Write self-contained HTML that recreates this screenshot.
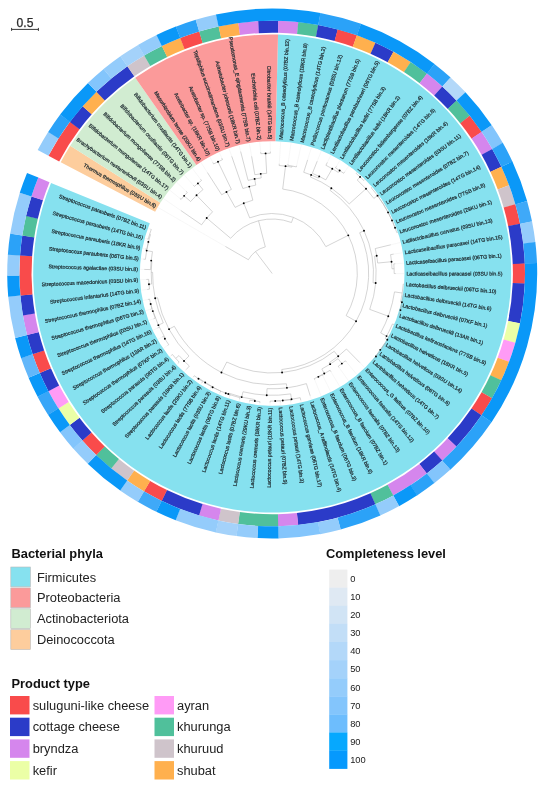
<!DOCTYPE html>
<html><head><meta charset="utf-8"><title>Phylogenetic tree of MAGs</title>
<style>
html,body{margin:0;padding:0;background:#fff}
body{width:550px;height:790px;overflow:hidden}
svg{display:block;font-family:"Liberation Sans",Arial,Helvetica,sans-serif}
</style></head><body>
<svg width="550" height="790" viewBox="0 0 550 790">
<rect width="550" height="790" fill="#fff"/>
<path d="M278.04 34.57A239.0 239.0 0 1 1 51.04 182.89L149.78 223.34A132.3 132.3 0 1 0 275.43 141.24Z" fill="#86e1ef"/>
<path d="M60.73 162.14A239.0 239.0 0 0 1 70.22 145.74L160.39 202.78A132.3 132.3 0 0 0 155.14 211.86Z" fill="#fdcd9d"/>
<path d="M70.22 145.74A239.0 239.0 0 0 1 135.25 77.63L196.39 165.07A132.3 132.3 0 0 0 160.39 202.78Z" fill="#d1ecd1"/>
<path d="M135.25 77.63A239.0 239.0 0 0 1 278.04 34.57L275.43 141.24A132.3 132.3 0 0 0 196.39 165.07Z" fill="#fb9a9a"/>
<path d="M48.48 155.79A252.8 252.8 0 0 1 69.99 121.78L79.67 129.05A240.7 240.7 0 0 0 59.18 161.43Z" fill="#f94b4b"/>
<path d="M69.88 121.93A252.8 252.8 0 0 1 82.64 106.24L91.72 114.24A240.7 240.7 0 0 0 79.56 129.18Z" fill="#2b3bc8"/>
<path d="M82.53 106.37A252.8 252.8 0 0 1 96.50 91.74L104.91 100.44A240.7 240.7 0 0 0 91.61 114.37Z" fill="#ffb04e"/>
<path d="M96.37 91.87A252.8 252.8 0 0 1 127.42 66.27L134.35 76.19A240.7 240.7 0 0 0 104.78 100.56Z" fill="#2b3bc8"/>
<path d="M127.27 66.37A252.8 252.8 0 0 1 144.29 55.45L150.42 65.88A240.7 240.7 0 0 0 134.21 76.28Z" fill="#cfc4cb"/>
<path d="M144.14 55.53A252.8 252.8 0 0 1 161.98 46.00L167.25 56.88A240.7 240.7 0 0 0 150.27 65.97Z" fill="#50c09b"/>
<path d="M161.82 46.07A252.8 252.8 0 0 1 180.35 37.98L184.75 49.25A240.7 240.7 0 0 0 167.10 56.96Z" fill="#ffb04e"/>
<path d="M180.19 38.04A252.8 252.8 0 0 1 199.30 31.44L202.79 43.02A240.7 240.7 0 0 0 184.59 49.31Z" fill="#f94b4b"/>
<path d="M199.13 31.49A252.8 252.8 0 0 1 218.71 26.42L221.27 38.25A240.7 240.7 0 0 0 202.63 43.07Z" fill="#50c09b"/>
<path d="M218.54 26.46A252.8 252.8 0 0 1 238.46 22.96L240.07 34.95A240.7 240.7 0 0 0 221.11 38.28Z" fill="#ffb04e"/>
<path d="M238.28 22.99A252.8 252.8 0 0 1 258.42 21.08L259.08 33.16A240.7 240.7 0 0 0 239.91 34.98Z" fill="#d586ed"/>
<path d="M258.24 21.09A252.8 252.8 0 0 1 278.46 20.78L278.16 32.87A240.7 240.7 0 0 0 258.91 33.17Z" fill="#2b3bc8"/>
<path d="M278.29 20.77A252.8 252.8 0 0 1 298.47 22.07L297.21 34.10A240.7 240.7 0 0 0 278.00 32.87Z" fill="#d586ed"/>
<path d="M298.30 22.05A252.8 252.8 0 0 1 318.31 24.94L316.11 36.84A240.7 240.7 0 0 0 297.05 34.09Z" fill="#50c09b"/>
<path d="M318.14 24.91A252.8 252.8 0 0 1 337.86 29.38L334.72 41.06A240.7 240.7 0 0 0 315.94 36.81Z" fill="#2b3bc8"/>
<path d="M337.69 29.33A252.8 252.8 0 0 1 357.00 35.35L352.94 46.75A240.7 240.7 0 0 0 334.56 41.02Z" fill="#f94b4b"/>
<path d="M356.84 35.29A252.8 252.8 0 0 1 375.61 42.82L370.66 53.86A240.7 240.7 0 0 0 352.78 46.69Z" fill="#ffb04e"/>
<path d="M375.45 42.74A252.8 252.8 0 0 1 393.56 51.74L387.75 62.35A240.7 240.7 0 0 0 370.50 53.79Z" fill="#2b3bc8"/>
<path d="M393.41 51.65A252.8 252.8 0 0 1 410.75 62.05L404.12 72.17A240.7 240.7 0 0 0 387.61 62.27Z" fill="#ffb04e"/>
<path d="M410.61 61.95A252.8 252.8 0 0 1 427.07 73.69L419.66 83.26A240.7 240.7 0 0 0 403.98 72.08Z" fill="#50c09b"/>
<path d="M426.93 73.59A252.8 252.8 0 0 1 442.42 86.60L434.27 95.54A240.7 240.7 0 0 0 419.53 83.16Z" fill="#d586ed"/>
<path d="M442.29 86.48A252.8 252.8 0 0 1 456.69 100.67L447.86 108.94A240.7 240.7 0 0 0 434.15 95.43Z" fill="#2b3bc8"/>
<path d="M456.57 100.54A252.8 252.8 0 0 1 469.81 115.83L460.35 123.38A240.7 240.7 0 0 0 447.75 108.82Z" fill="#50c09b"/>
<path d="M469.70 115.70A252.8 252.8 0 0 1 481.68 131.99L471.66 138.76A240.7 240.7 0 0 0 460.25 123.25Z" fill="#f94b4b"/>
<path d="M481.58 131.84A252.8 252.8 0 0 1 492.24 149.03L481.70 154.99A240.7 240.7 0 0 0 471.56 138.62Z" fill="#d586ed"/>
<path d="M492.15 148.88A252.8 252.8 0 0 1 501.41 166.86L490.44 171.97A240.7 240.7 0 0 0 481.62 154.85Z" fill="#2b3bc8"/>
<path d="M501.33 166.70A252.8 252.8 0 0 1 509.14 185.36L497.80 189.58A240.7 240.7 0 0 0 490.37 171.81Z" fill="#ffb04e"/>
<path d="M509.08 185.19A252.8 252.8 0 0 1 515.38 204.41L503.74 207.72A240.7 240.7 0 0 0 497.74 189.42Z" fill="#cfc4cb"/>
<path d="M515.33 204.24A252.8 252.8 0 0 1 520.09 223.90L508.22 226.27A240.7 240.7 0 0 0 503.69 207.56Z" fill="#f94b4b"/>
<path d="M520.05 223.73A252.8 252.8 0 0 1 524.81 263.69L512.72 264.16A240.7 240.7 0 0 0 508.19 226.11Z" fill="#2b3bc8"/>
<path d="M524.80 263.51A252.8 252.8 0 0 1 524.79 283.73L512.70 283.24A240.7 240.7 0 0 0 512.71 263.99Z" fill="#f94b4b"/>
<path d="M524.80 283.56A252.8 252.8 0 0 1 520.00 323.51L508.14 321.12A240.7 240.7 0 0 0 512.71 283.08Z" fill="#2b3bc8"/>
<path d="M520.04 323.34A252.8 252.8 0 0 1 515.26 342.99L503.63 339.66A240.7 240.7 0 0 0 508.18 320.95Z" fill="#ebffa6"/>
<path d="M515.31 342.82A252.8 252.8 0 0 1 508.99 362.03L497.66 357.79A240.7 240.7 0 0 0 503.67 339.50Z" fill="#ff9bf6"/>
<path d="M509.05 361.87A252.8 252.8 0 0 1 501.23 380.52L490.27 375.40A240.7 240.7 0 0 0 497.72 357.64Z" fill="#ffb04e"/>
<path d="M501.31 380.36A252.8 252.8 0 0 1 492.03 398.33L481.51 392.36A240.7 240.7 0 0 0 490.34 375.24Z" fill="#50c09b"/>
<path d="M492.12 398.18A252.8 252.8 0 0 1 481.45 415.36L471.43 408.57A240.7 240.7 0 0 0 481.59 392.21Z" fill="#f94b4b"/>
<path d="M481.55 415.21A252.8 252.8 0 0 1 456.41 446.63L447.59 438.35A240.7 240.7 0 0 0 471.53 408.43Z" fill="#2b3bc8"/>
<path d="M456.53 446.51A252.8 252.8 0 0 1 442.11 460.69L433.98 451.73A240.7 240.7 0 0 0 447.71 438.22Z" fill="#d586ed"/>
<path d="M442.24 460.57A252.8 252.8 0 0 1 426.74 473.56L419.34 463.99A240.7 240.7 0 0 0 434.10 451.61Z" fill="#2b3bc8"/>
<path d="M426.88 473.45A252.8 252.8 0 0 1 393.19 495.46L387.40 484.84A240.7 240.7 0 0 0 419.48 463.88Z" fill="#d586ed"/>
<path d="M393.35 495.38A252.8 252.8 0 0 1 375.22 504.35L370.29 493.30A240.7 240.7 0 0 0 387.55 484.76Z" fill="#50c09b"/>
<path d="M375.39 504.28A252.8 252.8 0 0 1 298.05 524.97L296.82 512.94A240.7 240.7 0 0 0 370.45 493.24Z" fill="#2b3bc8"/>
<path d="M298.23 524.96A252.8 252.8 0 0 1 278.05 526.23L277.77 514.14A240.7 240.7 0 0 0 296.98 512.92Z" fill="#d586ed"/>
<path d="M278.22 526.23A252.8 252.8 0 0 1 238.04 523.98L239.68 511.99A240.7 240.7 0 0 0 277.93 514.13Z" fill="#50c09b"/>
<path d="M238.22 524.01A252.8 252.8 0 0 1 218.30 520.49L220.88 508.67A240.7 240.7 0 0 0 239.85 512.02Z" fill="#cfc4cb"/>
<path d="M218.48 520.53A252.8 252.8 0 0 1 198.90 515.44L202.41 503.86A240.7 240.7 0 0 0 221.05 508.70Z" fill="#d586ed"/>
<path d="M199.07 515.49A252.8 252.8 0 0 1 161.60 500.82L166.89 489.94A240.7 240.7 0 0 0 202.57 503.91Z" fill="#2b3bc8"/>
<path d="M161.76 500.90A252.8 252.8 0 0 1 143.93 491.34L150.07 480.92A240.7 240.7 0 0 0 167.04 490.01Z" fill="#f94b4b"/>
<path d="M144.08 491.43A252.8 252.8 0 0 1 127.07 480.49L134.02 470.59A240.7 240.7 0 0 0 150.22 481.00Z" fill="#ffb04e"/>
<path d="M127.22 480.59A252.8 252.8 0 0 1 111.13 468.34L118.84 459.02A240.7 240.7 0 0 0 134.16 470.68Z" fill="#cfc4cb"/>
<path d="M111.26 468.45A252.8 252.8 0 0 1 96.19 454.97L104.62 446.28A240.7 240.7 0 0 0 118.97 459.12Z" fill="#50c09b"/>
<path d="M96.32 455.09A252.8 252.8 0 0 1 82.37 440.45L91.45 432.46A240.7 240.7 0 0 0 104.74 446.40Z" fill="#f94b4b"/>
<path d="M82.48 440.58A252.8 252.8 0 0 1 69.74 424.88L79.43 417.63A240.7 240.7 0 0 0 91.56 432.58Z" fill="#2b3bc8"/>
<path d="M69.84 425.02A252.8 252.8 0 0 1 58.38 408.36L68.61 401.91A240.7 240.7 0 0 0 79.53 417.77Z" fill="#ebffa6"/>
<path d="M58.47 408.51A252.8 252.8 0 0 1 48.36 390.99L59.08 385.37A240.7 240.7 0 0 0 68.70 402.05Z" fill="#ff9bf6"/>
<path d="M48.44 391.15A252.8 252.8 0 0 1 39.76 372.89L50.88 368.13A240.7 240.7 0 0 0 59.15 385.52Z" fill="#2b3bc8"/>
<path d="M39.83 373.05A252.8 252.8 0 0 1 32.61 354.15L44.08 350.29A240.7 240.7 0 0 0 50.95 368.28Z" fill="#f94b4b"/>
<path d="M32.67 354.32A252.8 252.8 0 0 1 26.97 334.91L38.71 331.98A240.7 240.7 0 0 0 44.13 350.45Z" fill="#2b3bc8"/>
<path d="M27.02 335.09A252.8 252.8 0 0 1 22.88 315.29L34.81 313.29A240.7 240.7 0 0 0 38.75 332.14Z" fill="#d586ed"/>
<path d="M22.91 315.46A252.8 252.8 0 0 1 20.35 295.40L32.40 294.35A240.7 240.7 0 0 0 34.84 313.45Z" fill="#2b3bc8"/>
<path d="M20.37 295.58A252.8 252.8 0 0 1 20.05 255.34L32.12 256.21A240.7 240.7 0 0 0 32.42 294.52Z" fill="#f94b4b"/>
<path d="M20.04 255.51A252.8 252.8 0 0 1 22.29 235.41L34.25 237.24A240.7 240.7 0 0 0 32.11 256.37Z" fill="#2b3bc8"/>
<path d="M22.26 235.59A252.8 252.8 0 0 1 26.09 215.73L37.87 218.50A240.7 240.7 0 0 0 34.22 237.40Z" fill="#50c09b"/>
<path d="M26.05 215.90A252.8 252.8 0 0 1 31.44 196.41L42.96 200.10A240.7 240.7 0 0 0 37.83 218.66Z" fill="#2b3bc8"/>
<path d="M31.39 196.58A252.8 252.8 0 0 1 38.31 177.57L49.50 182.16A240.7 240.7 0 0 0 42.91 200.26Z" fill="#d586ed"/>
<path d="M37.68 150.11A265.0 265.0 0 0 1 48.29 131.76L58.60 138.29A252.8 252.8 0 0 0 48.48 155.79Z" fill="#94ccfb"/>
<path d="M48.19 131.92A265.0 265.0 0 0 1 60.23 114.46L69.99 121.78A252.8 252.8 0 0 0 58.51 138.43Z" fill="#2ba2f8"/>
<path d="M60.12 114.61A265.0 265.0 0 0 1 88.02 82.97L96.50 91.74A252.8 252.8 0 0 0 69.88 121.93Z" fill="#0a98f8"/>
<path d="M87.88 83.10A265.0 265.0 0 0 1 103.69 68.98L111.45 78.39A252.8 252.8 0 0 0 96.37 91.87Z" fill="#83c5fc"/>
<path d="M103.55 69.09A265.0 265.0 0 0 1 120.43 56.27L127.42 66.27A252.8 252.8 0 0 0 111.31 78.50Z" fill="#94ccfb"/>
<path d="M120.28 56.37A265.0 265.0 0 0 1 138.12 44.92L144.29 55.45A252.8 252.8 0 0 0 127.27 66.37Z" fill="#a4d2fa"/>
<path d="M137.96 45.02A265.0 265.0 0 0 1 156.66 35.02L161.98 46.00A252.8 252.8 0 0 0 144.14 55.53Z" fill="#94ccfb"/>
<path d="M156.49 35.10A265.0 265.0 0 0 1 175.92 26.61L180.35 37.98A252.8 252.8 0 0 0 161.82 46.07Z" fill="#0a98f8"/>
<path d="M175.74 26.68A265.0 265.0 0 0 1 195.78 19.76L199.30 31.44A252.8 252.8 0 0 0 180.19 38.04Z" fill="#2ba2f8"/>
<path d="M195.61 19.81A265.0 265.0 0 0 1 216.13 14.50L218.71 26.42A252.8 252.8 0 0 0 199.13 31.49Z" fill="#94ccfb"/>
<path d="M215.95 14.54A265.0 265.0 0 0 1 320.54 12.95L318.31 24.94A252.8 252.8 0 0 0 218.54 26.46Z" fill="#0a98f8"/>
<path d="M320.36 12.91A265.0 265.0 0 0 1 361.09 23.85L357.00 35.35A252.8 252.8 0 0 0 318.14 24.91Z" fill="#2ba2f8"/>
<path d="M360.92 23.79A265.0 265.0 0 0 1 434.55 64.05L427.07 73.69A252.8 252.8 0 0 0 356.84 35.29Z" fill="#0a98f8"/>
<path d="M434.40 63.94A265.0 265.0 0 0 1 450.63 77.58L442.42 86.60A252.8 252.8 0 0 0 426.93 73.59Z" fill="#2ba2f8"/>
<path d="M450.50 77.45A265.0 265.0 0 0 1 465.60 92.33L456.69 100.67A252.8 252.8 0 0 0 442.29 86.48Z" fill="#b3d8f9"/>
<path d="M465.47 92.20A265.0 265.0 0 0 1 491.79 125.16L481.68 131.99A252.8 252.8 0 0 0 456.57 100.54Z" fill="#0a98f8"/>
<path d="M491.69 125.01A265.0 265.0 0 0 1 502.86 143.03L492.24 149.03A252.8 252.8 0 0 0 481.58 131.84Z" fill="#83c5fc"/>
<path d="M502.76 142.87A265.0 265.0 0 0 1 512.47 161.72L501.41 166.86A252.8 252.8 0 0 0 492.15 148.88Z" fill="#2ba2f8"/>
<path d="M512.39 161.55A265.0 265.0 0 0 1 527.11 201.08L515.38 204.41A252.8 252.8 0 0 0 501.33 166.70Z" fill="#0a98f8"/>
<path d="M527.06 200.90A265.0 265.0 0 0 1 532.05 221.51L520.09 223.90A252.8 252.8 0 0 0 515.33 204.24Z" fill="#3fa9f8"/>
<path d="M532.01 221.32A265.0 265.0 0 0 1 535.35 242.26L523.24 243.70A252.8 252.8 0 0 0 520.05 223.73Z" fill="#94ccfb"/>
<path d="M535.33 242.08A265.0 265.0 0 0 1 537.00 263.21L524.81 263.69A252.8 252.8 0 0 0 523.22 243.52Z" fill="#2ba2f8"/>
<path d="M536.99 263.03A265.0 265.0 0 0 1 491.55 422.20L481.45 415.36A252.8 252.8 0 0 0 524.80 263.51Z" fill="#0a98f8"/>
<path d="M491.65 422.05A265.0 265.0 0 0 1 450.31 469.72L442.11 460.69A252.8 252.8 0 0 0 481.55 415.21Z" fill="#2ba2f8"/>
<path d="M450.45 469.60A265.0 265.0 0 0 1 434.20 483.22L426.74 473.56A252.8 252.8 0 0 0 442.24 460.57Z" fill="#83c5fc"/>
<path d="M434.35 483.10A265.0 265.0 0 0 1 417.07 495.39L410.40 485.18A252.8 252.8 0 0 0 426.88 473.45Z" fill="#2ba2f8"/>
<path d="M417.23 495.29A265.0 265.0 0 0 1 399.03 506.18L393.19 495.46A252.8 252.8 0 0 0 410.55 485.08Z" fill="#0a98f8"/>
<path d="M399.20 506.09A265.0 265.0 0 0 1 380.20 515.50L375.22 504.35A252.8 252.8 0 0 0 393.35 495.38Z" fill="#94ccfb"/>
<path d="M380.37 515.42A265.0 265.0 0 0 1 340.61 529.52L337.46 517.73A252.8 252.8 0 0 0 375.39 504.28Z" fill="#2ba2f8"/>
<path d="M340.79 529.47A265.0 265.0 0 0 1 320.11 534.13L317.90 522.13A252.8 252.8 0 0 0 337.63 517.69Z" fill="#94ccfb"/>
<path d="M320.29 534.10A265.0 265.0 0 0 1 278.33 538.43L278.05 526.23A252.8 252.8 0 0 0 318.07 522.10Z" fill="#83c5fc"/>
<path d="M278.51 538.42A265.0 265.0 0 0 1 257.31 538.08L258.00 525.90A252.8 252.8 0 0 0 278.22 526.23Z" fill="#0a98f8"/>
<path d="M257.50 538.09A265.0 265.0 0 0 1 236.40 536.07L238.04 523.98A252.8 252.8 0 0 0 258.18 525.91Z" fill="#94ccfb"/>
<path d="M236.58 536.10A265.0 265.0 0 0 1 215.70 532.41L218.30 520.49A252.8 252.8 0 0 0 238.22 524.01Z" fill="#a4d2fa"/>
<path d="M215.88 532.45A265.0 265.0 0 0 1 175.51 520.23L179.96 508.87A252.8 252.8 0 0 0 218.48 520.53Z" fill="#94ccfb"/>
<path d="M175.68 520.30A265.0 265.0 0 0 1 156.26 511.79L161.60 500.82A252.8 252.8 0 0 0 180.12 508.94Z" fill="#0a98f8"/>
<path d="M156.43 511.87A265.0 265.0 0 0 1 137.74 501.86L143.93 491.34A252.8 252.8 0 0 0 161.76 500.90Z" fill="#3fa9f8"/>
<path d="M137.90 501.95A265.0 265.0 0 0 1 120.07 490.48L127.07 480.49A252.8 252.8 0 0 0 144.08 491.43Z" fill="#94ccfb"/>
<path d="M120.22 490.59A265.0 265.0 0 0 1 87.70 463.72L96.19 454.97A252.8 252.8 0 0 0 127.22 480.59Z" fill="#0a98f8"/>
<path d="M87.83 463.85A265.0 265.0 0 0 1 73.21 448.50L82.37 440.45A252.8 252.8 0 0 0 96.32 455.09Z" fill="#94ccfb"/>
<path d="M73.33 448.64A265.0 265.0 0 0 1 59.96 432.19L69.74 424.88A252.8 252.8 0 0 0 82.48 440.58Z" fill="#83c5fc"/>
<path d="M60.08 432.33A265.0 265.0 0 0 1 48.06 414.87L58.38 408.36A252.8 252.8 0 0 0 69.84 425.02Z" fill="#0a98f8"/>
<path d="M48.16 415.03A265.0 265.0 0 0 1 37.56 396.66L48.36 390.99A252.8 252.8 0 0 0 58.47 408.51Z" fill="#38a6f8"/>
<path d="M37.65 396.83A265.0 265.0 0 0 1 28.54 377.68L39.76 372.89A252.8 252.8 0 0 0 48.44 391.15Z" fill="#0a98f8"/>
<path d="M28.61 377.85A265.0 265.0 0 0 1 21.05 358.05L32.61 354.15A252.8 252.8 0 0 0 39.83 373.05Z" fill="#62b7fa"/>
<path d="M21.11 358.22A265.0 265.0 0 0 1 15.14 337.88L26.97 334.91A252.8 252.8 0 0 0 32.67 354.32Z" fill="#0a98f8"/>
<path d="M15.18 338.06A265.0 265.0 0 0 1 8.20 296.46L20.35 295.40A252.8 252.8 0 0 0 27.02 335.09Z" fill="#94ccfb"/>
<path d="M8.21 296.64A265.0 265.0 0 0 1 7.21 275.47L19.41 275.38A252.8 252.8 0 0 0 20.37 295.58Z" fill="#0a98f8"/>
<path d="M7.21 275.65A265.0 265.0 0 0 1 7.88 254.46L20.05 255.34A252.8 252.8 0 0 0 19.41 275.55Z" fill="#94ccfb"/>
<path d="M7.87 254.65A265.0 265.0 0 0 1 10.22 233.58L22.29 235.41A252.8 252.8 0 0 0 20.04 255.51Z" fill="#2ba2f8"/>
<path d="M10.20 233.76A265.0 265.0 0 0 1 19.82 192.69L31.44 196.41A252.8 252.8 0 0 0 22.26 235.59Z" fill="#94ccfb"/>
<path d="M19.77 192.87A265.0 265.0 0 0 1 27.02 172.94L38.31 177.57A252.8 252.8 0 0 0 31.39 196.58Z" fill="#0a98f8"/>
<path d="M179.89 198.40L169.81 190.19M186.13 191.32L176.73 182.34M193.25 185.13L184.26 175.06M200.50 179.15L192.33 168.40M180.82 210.49L163.53 198.57M212.77 162.40L209.94 157.11M221.76 158.04L219.36 152.54M207.39 172.50L200.91 162.41M260.68 152.04L259.74 142.09M270.34 151.51L270.19 141.52M251.61 156.29L249.36 143.49M240.64 151.52L239.13 145.71M231.72 156.29L229.11 148.73M287.99 164.13L291.07 142.86M296.61 165.73L301.36 144.76M279.25 163.73L280.66 141.77M336.47 166.29L340.07 160.29M344.77 171.72L348.83 166.02M327.33 162.43L330.89 155.26M317.24 161.19L321.33 150.98M307.60 159.89L311.47 147.48M395.32 263.77L403.79 263.10M395.70 273.56L404.20 273.56M393.66 254.13L402.55 252.71M390.78 244.80L400.49 242.44M346.41 362.01L357.01 374.65M339.16 367.61L348.73 381.05M323.01 376.11L330.77 391.79M314.72 379.81L321.22 396.06M330.98 371.76L339.96 386.78M359.85 362.62L364.76 367.61M280.34 402.24L280.53 405.24M270.11 402.48L270.06 405.48M290.52 401.19L290.94 404.16M300.80 400.32L301.24 402.27M259.80 402.91L259.61 404.90M249.59 401.52L249.24 403.49M201.89 382.84L200.81 384.53M193.44 376.93L192.23 378.52M210.77 388.07L209.83 389.83M220.05 392.58L219.24 394.41M229.65 396.34L228.99 398.23M239.51 399.32L239.01 401.26M310.16 395.74L311.35 399.56M178.09 363.19L176.65 364.57M171.28 355.45L169.73 356.71M186.16 369.62L184.16 371.85M167.58 345.49L163.46 348.33M162.20 336.98L157.87 339.48M150.34 309.26L145.54 310.66M147.89 299.49L142.99 300.51M153.55 318.80L148.88 320.58M157.52 328.06L153.00 330.21M147.21 289.43L141.26 290.19M146.34 279.47L140.35 279.76M147.39 238.97L144.98 238.31M150.52 229.19L148.17 228.34M145.04 248.97L142.59 248.50M143.50 259.13L141.02 258.85M144.27 269.42L140.27 269.29M225.45 246.47L157.93 207.42" fill="none" stroke="#ececec" stroke-width="0.4"/>
<path d="M181.13 199.41A117.4 117.4 0 0 1 187.29 192.42M181.13 199.41L179.89 198.40M187.29 192.42L186.13 191.32M194.38 186.40A116.8 116.8 0 0 1 201.53 180.51M194.38 186.40L193.25 185.13M201.53 180.51L200.50 179.15M190.59 201.54A108.8 108.8 0 0 1 202.99 189.55M190.59 201.54L184.14 195.85M202.99 189.55L197.90 183.38M201.56 224.79A85.8 85.8 0 0 1 212.54 211.83M201.56 224.79L180.82 210.49M212.54 211.83L196.55 195.30M213.62 163.98A124.2 124.2 0 0 1 222.48 159.69M213.62 163.98L212.77 162.40M222.48 159.69L221.76 158.04M221.70 194.81A93.5 93.5 0 0 1 231.40 189.37M221.70 194.81L207.39 172.50M231.40 189.37L218.01 161.75M260.84 153.74A120.3 120.3 0 0 1 270.37 153.21M260.84 153.74L260.68 152.04M270.37 153.21L270.34 151.51M254.85 174.71A100.3 100.3 0 0 1 266.70 173.35M254.85 174.71L251.61 156.29M266.70 173.35L265.60 153.38M248.10 180.37A96.2 96.2 0 0 1 261.22 177.93M248.10 180.37L240.64 151.52M261.22 177.93L260.75 173.86M242.85 188.52A89.9 89.9 0 0 1 255.77 185.11M242.85 188.52L231.72 156.29M255.77 185.11L254.62 178.92M235.13 207.38A75.8 75.8 0 0 1 252.85 200.21M235.13 207.38L226.47 191.94M252.85 200.21L249.25 186.58M287.82 165.32A109.3 109.3 0 0 1 296.35 166.90M287.82 165.32L287.99 164.13M296.35 166.90L296.61 165.73M279.13 165.52A108.2 108.2 0 0 1 291.90 167.11M279.13 165.52L279.25 163.73M291.90 167.11L292.10 166.03M335.50 167.92A123.1 123.1 0 0 1 343.66 173.27M335.50 167.92L336.47 166.29M343.66 173.27L344.77 171.72M325.91 165.30A120.8 120.8 0 0 1 338.37 172.44M325.91 165.30L327.33 162.43M338.37 172.44L339.63 170.51M312.36 173.35A107.9 107.9 0 0 1 325.83 179.87M312.36 173.35L317.24 161.19M325.83 179.87L332.25 168.68M303.73 172.30A106 106 0 0 1 318.38 178.09M303.73 172.30L307.60 159.89M318.38 178.09L319.21 176.38M356.20 173.50A130.6 130.6 0 0 1 363.86 180.47M356.20 173.50L357.11 172.43M363.86 180.47L364.85 179.48M393.15 222.91A131.1 131.1 0 0 1 396.78 232.66M393.15 222.91L393.98 222.57M396.78 232.66L397.63 232.38M388.67 213.53A131 131 0 0 1 394.96 227.78M388.67 213.53L389.56 213.08M394.96 227.78L395.06 227.75M383.55 204.49A131 131 0 0 1 392.03 220.56M383.55 204.49L384.40 203.97M392.03 220.56L392.03 220.56M377.73 195.89A131 131 0 0 1 388.07 212.38M377.73 195.89L378.54 195.29M388.07 212.38L388.07 212.38M371.25 187.77A131 131 0 0 1 383.21 203.94M371.25 187.77L372.01 187.11M383.21 203.94L383.21 203.94M357.28 180.02A126.4 126.4 0 0 1 373.84 198.36M357.28 180.02L360.10 176.91M373.84 198.36L377.54 195.63M310.36 176.97A103.8 103.8 0 0 1 349.24 203.93M310.36 176.97L311.17 174.92M349.24 203.93L366.01 188.78M393.82 263.89A122 122 0 0 1 394.20 273.56M393.82 263.89L395.32 263.77M394.20 273.56L395.70 273.56M390.60 254.61A119.9 119.9 0 0 1 392.01 268.80M390.60 254.61L393.66 254.13M392.01 268.80L394.11 268.72M375.22 248.56A106 106 0 0 1 377.68 263.06M375.22 248.56L390.78 244.80M377.68 263.06L391.52 261.69M401.83 305.01A133.4 133.4 0 0 1 398.92 315.18M401.83 305.01L402.80 305.25M398.92 315.18L399.87 315.49M403.42 294.56A132.9 132.9 0 0 1 399.99 309.99M403.42 294.56L404.51 294.73M399.99 309.99L400.47 310.12M403.28 283.98A131.5 131.5 0 0 1 400.57 302.02M403.28 283.98L403.78 284.02M400.57 302.02L401.94 302.32M379.19 352.34A132.9 132.9 0 0 1 372.60 360.57M379.19 352.34L380.07 352.99M372.60 360.57L373.43 361.29M384.59 343.30A132.3 132.3 0 0 1 375.51 356.15M384.59 343.30L386.03 344.20M375.51 356.15L375.98 356.52M390.21 334.40A132.8 132.8 0 0 1 380.65 350.15M390.21 334.40L391.28 334.95M380.65 350.15L380.24 349.86M392.45 323.93A130.4 130.4 0 0 1 385.24 338.50M392.45 323.93L393.93 324.55M385.24 338.50L387.32 339.70M394.53 291.89A123.7 123.7 0 0 1 380.70 332.90M394.53 291.89L402.24 293.05M380.70 332.90L386.58 336.12M374.64 256.12A103.9 103.9 0 0 1 369.71 309.38M374.64 256.12L376.71 255.77M369.71 309.38L388.29 316.21M329.93 190.26A101.3 101.3 0 0 1 373.07 282.83M329.93 190.26L331.35 188.20M373.07 282.83L375.66 283.07M345.38 360.78A113.9 113.9 0 0 1 338.23 366.31M345.38 360.78L346.41 362.01M338.23 366.31L339.16 367.61M322.43 374.95A113.2 113.2 0 0 1 314.23 378.61M322.43 374.95L323.01 376.11M314.23 378.61L314.72 379.81M330.11 370.30A112.8 112.8 0 0 1 318.21 376.49M330.11 370.30L330.98 371.76M318.21 376.49L318.37 376.86M338.01 358.63A107.6 107.6 0 0 1 321.85 368.96M338.01 358.63L341.86 363.61M321.85 368.96L324.25 373.57M346.46 349.00A105.9 105.9 0 0 1 329.24 362.72M346.46 349.00L359.85 362.62M329.24 362.72L330.16 364.16M280.25 400.85A127.6 127.6 0 0 1 270.13 401.08M280.25 400.85L280.34 402.24M270.13 401.08L270.11 402.48M290.30 399.71A127.5 127.5 0 0 1 275.19 400.96M290.30 399.71L290.52 401.19M275.19 400.96L275.20 401.06M300.20 397.68A127.3 127.3 0 0 1 282.75 400.36M300.20 397.68L300.80 400.32M282.75 400.36L282.77 400.56M259.93 401.61A128.7 128.7 0 0 1 249.81 400.24M259.93 401.61L259.80 402.91M249.81 400.24L249.59 401.52M202.70 381.58A128.5 128.5 0 0 1 194.35 375.74M202.70 381.58L201.89 382.84M194.35 375.74L193.44 376.93M211.77 386.22A127.9 127.9 0 0 1 198.81 378.25M211.77 386.22L210.77 388.07M198.81 378.25L198.47 378.74M220.69 391.11A128.4 128.4 0 0 1 204.91 382.85M220.69 391.11L220.05 392.58M204.91 382.85L205.17 382.43M230.17 394.83A128.4 128.4 0 0 1 212.65 387.26M230.17 394.83L229.65 396.34M212.65 387.26L212.65 387.26M239.94 397.68A128.3 128.3 0 0 1 225.80 393.12M239.94 397.68L239.51 399.32M225.80 393.12L225.77 393.21M255.04 399.64A127.3 127.3 0 0 1 228.66 393.12M255.04 399.64L254.86 401.03M228.66 393.12L228.32 394.06M290.69 393.89A121.8 121.8 0 0 1 243.00 391.75M290.69 393.89L291.52 399.32M243.00 391.75L241.68 397.09M306.40 383.61A115.3 115.3 0 0 1 267.03 388.68M306.40 383.61L310.16 395.74M267.03 388.68L266.74 395.18M179.18 362.15A128.5 128.5 0 0 1 172.45 354.50M179.18 362.15L178.09 363.19M172.45 354.50L171.28 355.45M189.36 366.04A124.2 124.2 0 0 1 178.96 355.55M189.36 366.04L186.16 369.62M178.96 355.55L175.74 358.39M168.73 344.70A125.6 125.6 0 0 1 163.41 336.28M168.73 344.70L167.58 345.49M163.41 336.28L162.20 336.98M151.97 308.78A125.3 125.3 0 0 1 149.55 299.14M151.97 308.78L150.34 309.26M149.55 299.14L147.89 299.49M155.24 318.16A125.2 125.2 0 0 1 150.76 303.96M155.24 318.16L153.55 318.80M150.76 303.96L150.66 303.98M165.39 338.44A125 125 0 0 1 152.98 311.06M165.39 338.44L164.88 338.75M159.32 327.20L157.52 328.06M152.98 311.06L152.79 311.12M149.49 289.14A123.7 123.7 0 0 1 148.64 279.36M149.49 289.14L147.21 289.43M148.64 279.36L146.34 279.47M148.16 239.19A128.7 128.7 0 0 1 151.27 229.47M148.16 239.19L147.39 238.97M151.27 229.47L150.52 229.19M146.71 249.30A127.8 127.8 0 0 1 150.47 234.57M146.71 249.30L145.04 248.97M150.47 234.57L149.62 234.30M145.39 259.34A127.6 127.6 0 0 1 148.57 241.93M145.39 259.34L143.50 259.13M148.57 241.93L148.37 241.88M150.56 269.62A121.7 121.7 0 0 1 152.48 251.64M150.56 269.62L144.27 269.42M152.48 251.64L146.68 250.58M151.66 284.02A121 121 0 0 1 151.88 260.67M151.66 284.02L148.97 284.26M151.88 260.67L151.19 260.59M163.28 322.90A119.6 119.6 0 0 1 152.61 272.35M163.28 322.90L158.36 325.13M152.61 272.35L151.21 272.34M188.98 356.02A117.2 117.2 0 0 1 157.53 297.71M188.98 356.02L184.01 360.95M157.53 297.71L155.18 298.21M286.41 383.79A111.2 111.2 0 0 1 174.33 326.29M286.41 383.79L286.93 387.85M174.33 326.29L169.05 329.14M334.22 351.31A99.5 99.5 0 0 1 226.78 362.03M334.22 351.31L338.21 356.31M226.78 362.03L221.44 372.44M359.67 232.74A96.5 96.5 0 0 1 281.78 369.52M359.67 232.74L364.02 230.71M281.78 369.52L282.08 372.51M282.69 189.05A85.1 85.1 0 0 1 346.15 315.61M282.69 189.05L285.54 166.13M346.15 315.61L356.06 321.25M249.69 217.88A60 60 0 0 1 325.83 246.61M249.69 217.88L243.76 203.24M325.83 246.61L348.27 235.35M230.62 238.27A54.5 54.5 0 0 1 291.44 222.51M230.62 238.27L206.73 218.04M291.44 222.51L293.38 217.36M248.39 259.73A27.5 27.5 0 0 1 265.30 246.88M248.39 259.73L225.45 246.47M265.30 246.88L258.52 220.74M272.20 273.50L255.56 251.61" fill="none" stroke="#aaaaaa" stroke-width="0.5"/>
<g fill="#000"><circle cx="184.14" cy="195.85" r="0.95"/><circle cx="197.90" cy="183.38" r="0.95"/><circle cx="196.55" cy="195.30" r="0.95"/><circle cx="206.73" cy="218.04" r="0.95"/><circle cx="218.01" cy="161.75" r="0.95"/><circle cx="226.47" cy="191.94" r="0.95"/><circle cx="265.60" cy="153.38" r="0.95"/><circle cx="260.75" cy="173.86" r="0.95"/><circle cx="254.62" cy="178.92" r="0.95"/><circle cx="249.25" cy="186.58" r="0.95"/><circle cx="243.76" cy="203.24" r="0.95"/><circle cx="285.54" cy="166.13" r="0.95"/><circle cx="339.63" cy="170.51" r="0.95"/><circle cx="332.25" cy="168.68" r="0.95"/><circle cx="319.21" cy="176.38" r="0.95"/><circle cx="311.17" cy="174.92" r="0.95"/><circle cx="360.10" cy="176.91" r="0.95"/><circle cx="395.06" cy="227.75" r="0.95"/><circle cx="392.03" cy="220.56" r="0.95"/><circle cx="388.07" cy="212.38" r="0.95"/><circle cx="377.54" cy="195.63" r="0.95"/><circle cx="366.01" cy="188.78" r="0.95"/><circle cx="331.35" cy="188.20" r="0.95"/><circle cx="391.52" cy="261.69" r="0.95"/><circle cx="376.71" cy="255.77" r="0.95"/><circle cx="400.47" cy="310.12" r="0.95"/><circle cx="401.94" cy="302.32" r="0.95"/><circle cx="375.98" cy="356.52" r="0.95"/><circle cx="380.24" cy="349.86" r="0.95"/><circle cx="387.32" cy="339.70" r="0.95"/><circle cx="386.58" cy="336.12" r="0.95"/><circle cx="388.29" cy="316.21" r="0.95"/><circle cx="375.66" cy="283.07" r="0.95"/><circle cx="364.02" cy="230.71" r="0.95"/><circle cx="341.86" cy="363.61" r="0.95"/><circle cx="318.37" cy="376.86" r="0.95"/><circle cx="324.25" cy="373.57" r="0.95"/><circle cx="330.16" cy="364.16" r="0.95"/><circle cx="338.21" cy="356.31" r="0.95"/><circle cx="275.20" cy="401.06" r="0.95"/><circle cx="282.77" cy="400.56" r="0.95"/><circle cx="291.52" cy="399.32" r="0.95"/><circle cx="254.86" cy="401.03" r="0.95"/><circle cx="198.47" cy="378.74" r="0.95"/><circle cx="205.17" cy="382.43" r="0.95"/><circle cx="212.65" cy="387.26" r="0.95"/><circle cx="225.77" cy="393.21" r="0.95"/><circle cx="228.32" cy="394.06" r="0.95"/><circle cx="241.68" cy="397.09" r="0.95"/><circle cx="266.74" cy="395.18" r="0.95"/><circle cx="286.93" cy="387.85" r="0.95"/><circle cx="184.01" cy="360.95" r="0.95"/><circle cx="164.88" cy="338.75" r="0.95"/><circle cx="150.66" cy="303.98" r="0.95"/><circle cx="152.79" cy="311.12" r="0.95"/><circle cx="158.36" cy="325.13" r="0.95"/><circle cx="148.97" cy="284.26" r="0.95"/><circle cx="148.37" cy="241.88" r="0.95"/><circle cx="146.68" cy="250.58" r="0.95"/><circle cx="151.19" cy="260.59" r="0.95"/><circle cx="155.18" cy="298.21" r="0.95"/><circle cx="169.05" cy="329.14" r="0.95"/><circle cx="221.44" cy="372.44" r="0.95"/><circle cx="282.08" cy="372.51" r="0.95"/><circle cx="356.06" cy="321.25" r="0.95"/><circle cx="348.27" cy="235.35" r="0.95"/></g>
<g font-size="5.25" fill="#1d2a2f" stroke="#1d2a2f" stroke-width="0.22"><text transform="translate(280.80 139.58) rotate(-86.33)" text-anchor="start" dy="1.9">Macrococcus_B caseolyticus (07BZ bin.12)</text><text transform="translate(291.38 140.68) rotate(-81.78)" text-anchor="start" dy="1.9">Macrococcus_B caseolyticus (18KR bin.8)</text><text transform="translate(301.85 142.62) rotate(-77.24)" text-anchor="start" dy="1.9">Macrococcus_B caseolyticus (14TG bin.2)</text><text transform="translate(312.12 145.38) rotate(-72.69)" text-anchor="start" dy="1.9">Pediococcus pentosaceus (03SU bin.12)</text><text transform="translate(322.15 148.94) rotate(-68.15)" text-anchor="start" dy="1.9">Lactiplantibacillus plantarum (77SB bin.5)</text><text transform="translate(331.86 153.29) rotate(-63.60)" text-anchor="start" dy="1.9">Lentilactobacillus parabuchneri (06TG bin.5)</text><text transform="translate(341.20 158.40) rotate(-59.06)" text-anchor="start" dy="1.9">Lentilactobacillus kefiri (77SB bin.3)</text><text transform="translate(350.11 164.23) rotate(-54.51)" text-anchor="start" dy="1.9">Lentilactobacillus kefiri (18KR bin.2)</text><text transform="translate(358.52 170.75) rotate(-49.97)" text-anchor="start" dy="1.9">Leuconostoc falkenbergense (07BZ bin.4)</text><text transform="translate(366.39 177.91) rotate(-45.42)" text-anchor="start" dy="1.9">Leuconostoc mesenteroides (14TG bin.8)</text><text transform="translate(373.67 185.67) rotate(-40.88)" text-anchor="start" dy="1.9">Leuconostoc mesenteroides (18KR bin.4)</text><text transform="translate(380.31 193.99) rotate(-36.33)" text-anchor="start" dy="1.9">Leuconostoc mesenteroides (03SU bin.11)</text><text transform="translate(386.27 202.81) rotate(-31.79)" text-anchor="start" dy="1.9">Leuconostoc mesenteroides (07BZ bin.7)</text><text transform="translate(391.51 212.07) rotate(-27.24)" text-anchor="start" dy="1.9">Leuconostoc mesenteroides (14TG bin.14)</text><text transform="translate(396.01 221.72) rotate(-22.70)" text-anchor="start" dy="1.9">Leuconostoc mesenteroides (77SB bin.8)</text><text transform="translate(399.72 231.69) rotate(-18.15)" text-anchor="start" dy="1.9">Leuconostoc mesenteroides (29KU bin.1)</text><text transform="translate(402.63 241.93) rotate(-13.61)" text-anchor="start" dy="1.9">Latilactobacillus curvatus (03SU bin.13)</text><text transform="translate(404.72 252.36) rotate(-9.06)" text-anchor="start" dy="1.9">Lacticaseibacillus paracasei (14TG bin.15)</text><text transform="translate(405.98 262.93) rotate(-4.52)" text-anchor="start" dy="1.9">Lacticaseibacillus paracasei (06TG bin.1)</text><text transform="translate(406.40 273.56) rotate(0.03)" text-anchor="start" dy="1.9">Lacticaseibacillus paracasei (03SU bin.5)</text><text transform="translate(405.97 284.20) rotate(4.57)" text-anchor="start" dy="1.9">Lactobacillus delbrueckii (06TG bin.10)</text><text transform="translate(404.70 294.77) rotate(9.12)" text-anchor="start" dy="1.9">Lactobacillus delbrueckii (14TG bin.6)</text><text transform="translate(402.60 305.20) rotate(13.66)" text-anchor="start" dy="1.9">Lactobacillus delbrueckii (07KF bin.1)</text><text transform="translate(399.68 315.43) rotate(18.21)" text-anchor="start" dy="1.9">Lactobacillus delbrueckii (13AR bin.1)</text><text transform="translate(395.96 325.40) rotate(22.75)" text-anchor="start" dy="1.9">Lactobacillus kefiranofaciens (77SB bin.8)</text><text transform="translate(391.46 335.05) rotate(27.30)" text-anchor="start" dy="1.9">Lactobacillus helveticus (18KR bin.5)</text><text transform="translate(386.20 344.30) rotate(31.84)" text-anchor="start" dy="1.9">Lactobacillus helveticus (03SU bin.14)</text><text transform="translate(380.23 353.11) rotate(36.39)" text-anchor="start" dy="1.9">Lactobacillus helveticus (06TG bin.6)</text><text transform="translate(373.59 361.42) rotate(40.93)" text-anchor="start" dy="1.9">Lactobacillus helveticus (14TG bin.7)</text><text transform="translate(366.30 369.18) rotate(45.48)" text-anchor="start" dy="1.9">Enterococcus_G italicus (07BZ bin.10)</text><text transform="translate(358.42 376.34) rotate(50.02)" text-anchor="start" dy="1.9">Enterococcus faecalis (14TG bin.12)</text><text transform="translate(350.00 382.85) rotate(54.57)" text-anchor="start" dy="1.9">Enterococcus faecalis (07BZ bin.13)</text><text transform="translate(341.09 388.67) rotate(59.11)" text-anchor="start" dy="1.9">Enterococcus_B faecium (07BZ bin.1)</text><text transform="translate(331.75 393.76) rotate(63.66)" text-anchor="start" dy="1.9">Enterococcus_B faecium (18KR bin.6)</text><text transform="translate(322.03 398.10) rotate(68.20)" text-anchor="start" dy="1.9">Enterococcus_B faecium (06TG bin.3)</text><text transform="translate(312.00 401.66) rotate(72.75)" text-anchor="start" dy="1.9">Lactococcus_A raffinolactis (14TG bin.4)</text><text transform="translate(301.72 404.41) rotate(77.29)" text-anchor="start" dy="1.9">Lactococcus garvieae (06TG bin.17)</text><text transform="translate(291.25 406.34) rotate(81.84)" text-anchor="start" dy="1.9">Lactococcus petauri (14TG bin.3)</text><text transform="translate(280.67 407.43) rotate(86.38)" text-anchor="start" dy="1.9">Lactococcus petauri (07BZ bin.9)</text><text transform="translate(270.03 407.68) rotate(-89.07)" text-anchor="end" dy="1.9">Lactococcus petauri (18KR bin.11)</text><text transform="translate(259.40 407.09) rotate(-84.53)" text-anchor="end" dy="1.9">Lactococcus cremoris (18KR bin.3)</text><text transform="translate(248.86 405.65) rotate(-79.98)" text-anchor="end" dy="1.9">Lactococcus cremoris (29KU bin.3)</text><text transform="translate(238.46 403.39) rotate(-75.44)" text-anchor="end" dy="1.9">Lactococcus lactis (07BZ bin.6)</text><text transform="translate(228.27 400.31) rotate(-70.89)" text-anchor="end" dy="1.9">Lactococcus lactis (14TG bin.11)</text><text transform="translate(218.36 396.43) rotate(-66.35)" text-anchor="end" dy="1.9">Lactococcus lactis (06TG bin.8)</text><text transform="translate(208.79 391.77) rotate(-61.80)" text-anchor="end" dy="1.9">Lactococcus lactis (03SU bin.3)</text><text transform="translate(199.62 386.38) rotate(-57.26)" text-anchor="end" dy="1.9">Lactococcus lactis (77SB bin.4)</text><text transform="translate(190.90 380.27) rotate(-52.71)" text-anchor="end" dy="1.9">Lactococcus lactis (29KU bin.2)</text><text transform="translate(182.69 373.49) rotate(-48.17)" text-anchor="end" dy="1.9">Streptococcus parasuis (18KR bin.1)</text><text transform="translate(175.05 366.09) rotate(-43.62)" text-anchor="end" dy="1.9">Streptococcus parasuis (03SU bin.4)</text><text transform="translate(168.02 358.10) rotate(-39.08)" text-anchor="end" dy="1.9">Streptococcus parasuis (06TG bin.4)</text><text transform="translate(161.65 349.57) rotate(-34.53)" text-anchor="end" dy="1.9">Streptococcus thermophilus (07KF bin.2)</text><text transform="translate(155.96 340.57) rotate(-29.99)" text-anchor="end" dy="1.9">Streptococcus thermophilus (13AR bin.2)</text><text transform="translate(151.02 331.15) rotate(-25.44)" text-anchor="end" dy="1.9">Streptococcus thermophilus (14TG bin.16)</text><text transform="translate(146.83 321.37) rotate(-20.90)" text-anchor="end" dy="1.9">Streptococcus thermophilus (03SU bin.1)</text><text transform="translate(143.43 311.28) rotate(-16.35)" text-anchor="end" dy="1.9">Streptococcus thermophilus (06TG bin.2)</text><text transform="translate(140.84 300.96) rotate(-11.81)" text-anchor="end" dy="1.9">Streptococcus thermophilus (07BZ bin.14)</text><text transform="translate(139.08 290.46) rotate(-7.26)" text-anchor="end" dy="1.9">Streptococcus infantarius (14TG bin.9)</text><text transform="translate(138.15 279.86) rotate(-2.72)" text-anchor="end" dy="1.9">Streptococcus macedonicus (03SU bin.9)</text><text transform="translate(138.07 269.22) rotate(1.83)" text-anchor="end" dy="1.9">Streptococcus agalactiae (03SU bin.8)</text><text transform="translate(138.83 258.60) rotate(6.37)" text-anchor="end" dy="1.9">Streptococcus parauberis (06TG bin.5)</text><text transform="translate(140.43 248.08) rotate(10.92)" text-anchor="end" dy="1.9">Streptococcus parauberis (18KR bin.9)</text><text transform="translate(142.86 237.72) rotate(15.46)" text-anchor="end" dy="1.9">Streptococcus parauberis (14TG bin.16)</text><text transform="translate(146.10 227.58) rotate(20.01)" text-anchor="end" dy="1.9">Streptococcus parauberis (07BZ bin.11)</text><text transform="translate(156.03 206.31) rotate(30.04)" text-anchor="end" dy="1.9">Thermus thermophilus (03SU bin.6)</text><text transform="translate(161.72 197.32) rotate(34.59)" text-anchor="end" dy="1.9">Brachybacterium nesterenkovii (03SU bin.4)</text><text transform="translate(168.10 188.80) rotate(39.13)" text-anchor="end" dy="1.9">Bifidobacterium mongoliense (14TG bin.17)</text><text transform="translate(175.14 180.82) rotate(43.68)" text-anchor="end" dy="1.9">Bifidobacterium mongoliense (77SB bin.2)</text><text transform="translate(182.79 173.42) rotate(48.22)" text-anchor="end" dy="1.9">Bifidobacterium crudilactis (06TG bin.7)</text><text transform="translate(191.00 166.65) rotate(52.77)" text-anchor="end" dy="1.9">Bifidobacterium crudilactis (14TG bin.1)</text><text transform="translate(199.72 160.55) rotate(57.31)" text-anchor="end" dy="1.9">Mesorhizobium terrae (29KU bin.4)</text><text transform="translate(208.90 155.17) rotate(61.86)" text-anchor="end" dy="1.9">Acetobacter sp. (18KR bin.10)</text><text transform="translate(218.48 150.52) rotate(66.40)" text-anchor="end" dy="1.9">Acetobacter sp. (77SB bin.10)</text><text transform="translate(228.39 146.65) rotate(70.95)" text-anchor="end" dy="1.9">Tepidiphilus succinatimandens (03SU bin.7)</text><text transform="translate(238.58 143.58) rotate(75.49)" text-anchor="end" dy="1.9">Acinetobacter johnsonii (18KR bin.7)</text><text transform="translate(248.98 141.32) rotate(80.04)" text-anchor="end" dy="1.9">Pseudomonas_E qingdaonensis (77SB bin.7)</text><text transform="translate(259.53 139.90) rotate(84.58)" text-anchor="end" dy="1.9">Escherichia coli (07BZ bin.2)</text><text transform="translate(270.16 139.32) rotate(89.13)" text-anchor="end" dy="1.9">Citrobacter braakii (14TG bin.5)</text></g>
<path d="M11.6 29.4H38.4M11.6 27.9V30.9M38.4 27.9V30.9" stroke="#3a3a3a" stroke-width="1.0" fill="none"/>
<text x="25" y="27.3" font-size="12.1" text-anchor="middle" fill="#2a2a2a" stroke="#2a2a2a" stroke-width="0.25">0.5</text>
<g font-size="12.85" fill="#222">
<text x="11.5" y="558.3" font-weight="bold" font-size="12.85" fill="#111">Bacterial phyla</text>
<rect x="10.8" y="567.0" width="19.6" height="19.8" fill="#86e1ef" stroke="#b9b9b9" stroke-width="0.6"/>
<text x="36.9" y="581.5">Firmicutes</text>
<rect x="10.8" y="587.9" width="19.6" height="19.8" fill="#fb9a9a" stroke="#b9b9b9" stroke-width="0.6"/>
<text x="36.9" y="602.3">Proteobacteria</text>
<rect x="10.8" y="608.8" width="19.6" height="19.8" fill="#d1ecd1" stroke="#b9b9b9" stroke-width="0.6"/>
<text x="36.9" y="623.1">Actinobacteriota</text>
<rect x="10.8" y="629.7" width="19.6" height="19.8" fill="#fdcd9d" stroke="#b9b9b9" stroke-width="0.6"/>
<text x="36.9" y="643.9">Deinococcota</text>
<text x="11.5" y="688" font-weight="bold" font-size="12.85" fill="#111">Product type</text>
<rect x="10" y="696.0" width="19.5" height="18.4" fill="#f94b4b"/>
<text x="32.7" y="709.6">suluguni-like cheese</text>
<rect x="10" y="717.7" width="19.5" height="18.4" fill="#2b3bc8"/>
<text x="32.7" y="731.3">cottage cheese</text>
<rect x="10" y="739.4" width="19.5" height="18.4" fill="#d586ed"/>
<text x="32.7" y="753.0">bryndza</text>
<rect x="10" y="761.1" width="19.5" height="18.4" fill="#ebffa6"/>
<text x="32.7" y="774.7">kefir</text>
<rect x="154.5" y="696.0" width="19.5" height="18.4" fill="#ff9bf6"/>
<text x="177" y="709.6">ayran</text>
<rect x="154.5" y="717.7" width="19.5" height="18.4" fill="#50c09b"/>
<text x="177" y="731.3">khurunga</text>
<rect x="154.5" y="739.4" width="19.5" height="18.4" fill="#cfc4cb"/>
<text x="177" y="753.0">khuruud</text>
<rect x="154.5" y="761.1" width="19.5" height="18.4" fill="#ffb04e"/>
<text x="177" y="774.7">shubat</text>
<text x="326" y="558.3" font-weight="bold" font-size="12.85" fill="#111">Completeness level</text>
</g>
<rect x="329.2" y="569.6" width="18.2" height="18.3" fill="#eeeeee"/>
<rect x="329.2" y="587.7" width="18.2" height="18.3" fill="#dfe9f3"/>
<rect x="329.2" y="605.8" width="18.2" height="18.3" fill="#d1e4f5"/>
<rect x="329.2" y="623.9" width="18.2" height="18.3" fill="#c2def7"/>
<rect x="329.2" y="642.0" width="18.2" height="18.3" fill="#b3d8f9"/>
<rect x="329.2" y="660.1" width="18.2" height="18.3" fill="#a4d2fa"/>
<rect x="329.2" y="678.2" width="18.2" height="18.3" fill="#94ccfb"/>
<rect x="329.2" y="696.3" width="18.2" height="18.3" fill="#83c5fc"/>
<rect x="329.2" y="714.4" width="18.2" height="18.3" fill="#6dbdfd"/>
<rect x="329.2" y="732.5" width="18.2" height="18.3" fill="#06a8fe"/>
<rect x="329.2" y="750.6" width="18.2" height="18.3" fill="#0699fd"/>
<g font-size="9.3" fill="#1a1a1a"><text x="350.2" y="581.9">0</text><text x="350.2" y="600.0">10</text><text x="350.2" y="618.1">20</text><text x="350.2" y="636.2">30</text><text x="350.2" y="654.3">40</text><text x="350.2" y="672.4">50</text><text x="350.2" y="690.5">60</text><text x="350.2" y="708.6">70</text><text x="350.2" y="726.7">80</text><text x="350.2" y="744.8">90</text><text x="350.2" y="762.9">100</text></g>
</svg>
</body></html>
